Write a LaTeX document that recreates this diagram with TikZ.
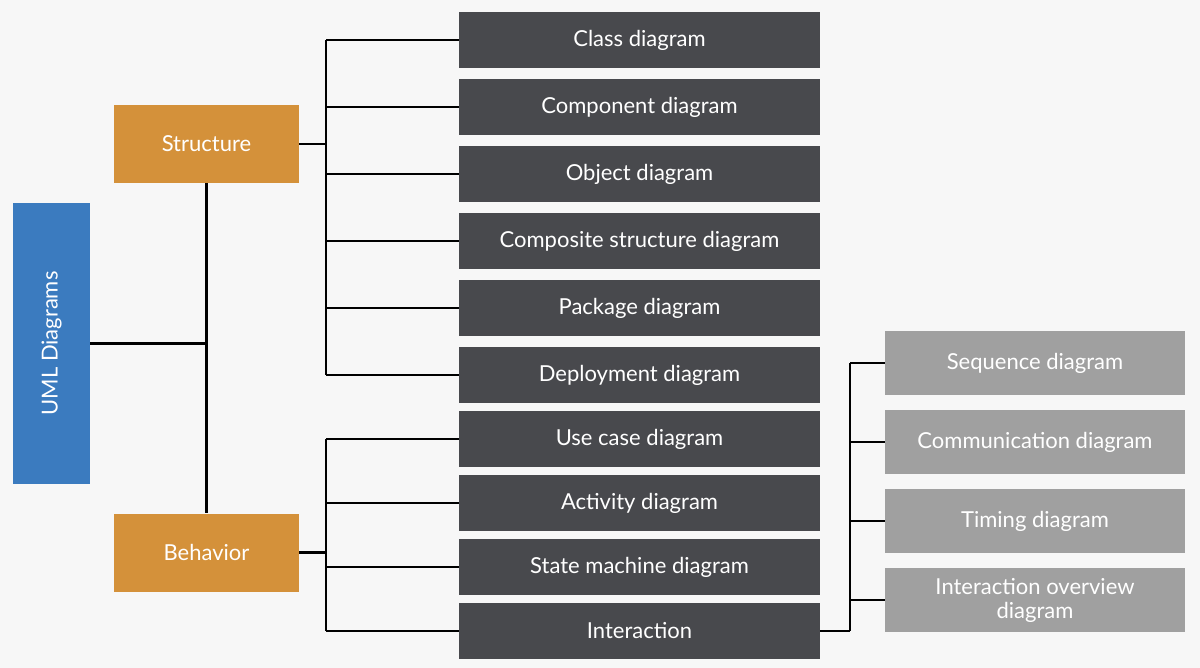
\documentclass[tikz,border=0pt]{standalone}
\usepackage{fontspec}
\setmainfont{Lato}
\definecolor{ublue}{HTML}{3B7BBF}
\definecolor{uorange}{HTML}{D4913A}
\definecolor{udark}{HTML}{48494D}
\definecolor{ugray}{HTML}{A0A0A0}
\begin{document}
\begin{tikzpicture}[x=0.5pt,y=-0.5pt,
 box/.style={draw=none,inner sep=0pt,text=white,font=\fontsize{11}{13}\selectfont,align=center},
 dk/.style={box,fill=udark,minimum width=180.5pt,minimum height=28pt},
 gr/.style={box,fill=ugray,minimum width=150pt,minimum height=32pt},
 org/.style={box,fill=uorange,minimum width=92.5pt,minimum height=39pt},
 ln/.style={line width=1.2pt,black}]
\fill[white!97!black] (0,0) rectangle (1200,668);
\node[box,fill=ublue,minimum width=38.5pt,minimum height=140.5pt] (uml) at (51.5,343.5) {};
\node[text=white,font=\fontsize{11}{13}\selectfont,rotate=90] at (uml) {UML Diagrams};
\node[org] (st) at (206.5,144) {Structure};
\node[org] (be) at (206.5,552.5) {Behavior};
\foreach \n/\y/\t in {c/40/Class diagram,co/107/Component diagram,o/174/Object diagram,cs/241/Composite structure diagram,p/308/Package diagram,d/375/Deployment diagram}
  \node[dk] (\n) at (639.5,\y) {\t};
\foreach \n/\y/\t in {u/439/Use case diagram,a/503/Activity diagram,s/567/State machine diagram,i/631/Interaction}
  \node[dk] (\n) at (639.5,\y) {\t};
\node[gr] (g1) at (1035,363) {Sequence diagram};
\node[gr] (g2) at (1035,442) {Communication diagram};
\node[gr] (g3) at (1035,521) {Timing diagram};
\node[gr] (g4) at (1035,600) {Interaction overview\\[-1pt]diagram};
% connectors
\coordinate (j0) at (206,343.5);
\draw[ln] (uml.east) -- (j0);
\draw[ln] (st.south) -- (be.north);
\coordinate (js) at (326,144);
\draw[ln] (st.east) -- (js);
\draw[ln] (326,40) -- (326,375);
\foreach \n in {c,co,o,cs,p,d} \draw[ln] (326,0 |- \n.west) -- (\n.west);
\coordinate (jb) at (326,552.5);
\draw[ln] (be.east) -- (jb);
\draw[ln] (326,439) -- (326,631);
\foreach \n in {u,a,s,i} \draw[ln] (326,0 |- \n.west) -- (\n.west);
\coordinate (ji) at (850,631);
\draw[ln] (i.east) -- (ji);
\draw[ln] (850,363) -- (ji);
\foreach \n in {g1,g2,g3,g4} \draw[ln] (850,0 |- \n.west) -- (\n.west);
\end{tikzpicture}
\end{document}
